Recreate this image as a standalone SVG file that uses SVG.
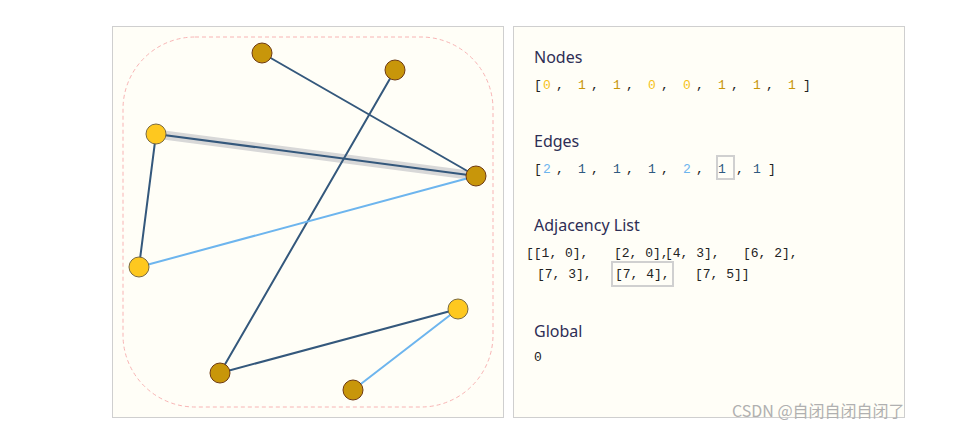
<svg xmlns="http://www.w3.org/2000/svg" width="956" height="430" viewBox="0 0 956 430">
<style>
.panel{fill:#fffef7;stroke:#cfcfcf;stroke-width:1}
.dk{stroke:#34587c;stroke-width:2}
.lt{stroke:#6db5ee;stroke-width:2}
.n1{fill:#c8960a;stroke:#6e3a12;stroke-width:1}
.n0{fill:#fec81f;stroke:#7a6a40;stroke-width:1}
.h{font-family:"Noto Sans","Liberation Sans",sans-serif;font-size:16px;fill:#2e2e55}
.m{font-family:"Liberation Mono","DejaVu Sans Mono",monospace;font-size:13px;fill:#222}
.y0{fill:#f5c21a}.y1{fill:#c8960a}.b2{fill:#6db5ee}.b1{fill:#2f5a80}
.box{fill:none;stroke:#d0d0d0;stroke-width:2}
</style>
<rect class="panel" x="112.5" y="26.5" width="391" height="391"/>
<rect class="panel" x="513.5" y="26.5" width="391" height="391"/>
<rect x="123" y="37" width="370" height="370" rx="72" fill="none" stroke="#f8b4b4" stroke-width="1" stroke-dasharray="4,3"/>
<g id="connectors" stroke-linecap="round">
<line x1="156" y1="134" x2="476" y2="176" stroke="#d8d8d8" stroke-width="9"/>
<line class="dk" x1="156" y1="134" x2="476" y2="176" stroke-width="2.5"/>
<line class="dk" x1="262" y1="53" x2="476" y2="176"/>
<line class="dk" x1="395" y1="70" x2="220" y2="373"/>
<line class="dk" x1="156" y1="134" x2="139" y2="267"/>
<line class="lt" x1="139" y1="267" x2="476" y2="176"/>
<line class="dk" x1="220" y1="373" x2="458" y2="309"/>
<line class="lt" x1="458" y1="309" x2="353" y2="390"/>
</g>
<g id="node0"><circle class="n1" cx="262" cy="53" r="10"/></g>
<g id="node1"><circle class="n1" cx="395" cy="70" r="10"/></g>
<g id="node2"><circle class="n0" cx="156" cy="134" r="10"/></g>
<g id="node3"><circle class="n1" cx="476" cy="176" r="10"/></g>
<g id="node4"><circle class="n0" cx="139" cy="267" r="10"/></g>
<g id="node5"><circle class="n0" cx="458" cy="309" r="10"/></g>
<g id="node6"><circle class="n1" cx="220" cy="373" r="10"/></g>
<g id="node7"><circle class="n1" cx="353" cy="390" r="10"/></g>
<g id="info">
<text class="h" x="534" y="63">Nodes</text>
<text class="m" y="89"><tspan x="534">[</tspan><tspan x="543" class="y0">0</tspan><tspan x="556">,</tspan><tspan x="578" class="y1">1</tspan><tspan x="591">,</tspan><tspan x="613" class="y1">1</tspan><tspan x="626">,</tspan><tspan x="648" class="y0">0</tspan><tspan x="661">,</tspan><tspan x="683" class="y0">0</tspan><tspan x="696">,</tspan><tspan x="718" class="y1">1</tspan><tspan x="731">,</tspan><tspan x="753" class="y1">1</tspan><tspan x="766">,</tspan><tspan x="788" class="y1">1</tspan><tspan x="803">]</tspan></text>
<text class="h" x="534" y="147">Edges</text>
<text class="m" y="173"><tspan x="534">[</tspan><tspan x="543" class="b2">2</tspan><tspan x="556">,</tspan><tspan x="578" class="b1">1</tspan><tspan x="591">,</tspan><tspan x="613" class="b1">1</tspan><tspan x="626">,</tspan><tspan x="648" class="b1">1</tspan><tspan x="661">,</tspan><tspan x="683" class="b2">2</tspan><tspan x="696">,</tspan><tspan x="718" class="b1">1</tspan><tspan x="736">,</tspan><tspan x="753" class="b1">1</tspan><tspan x="768">]</tspan></text>
<rect class="box" x="717" y="156" width="17" height="23"/>
<text class="h" x="534" y="231">Adjacency List</text>
<text class="m" y="257"><tspan x="526">[[1, 0],</tspan><tspan x="614">[2, 0],</tspan><tspan x="665">[4, 3],</tspan><tspan x="743">[6, 2],</tspan></text>
<text class="m" y="278"><tspan x="537">[7, 3],</tspan><tspan x="615">[7, 4],</tspan><tspan x="695">[7, 5]]</tspan></text>
<rect class="box" x="612" y="262" width="61" height="24"/>
<text class="h" x="534" y="337">Global</text>
<text class="m" x="534" y="361" fill="#f08080">0</text>
</g>
<text x="732" y="417" font-family="'Noto Sans CJK SC','Noto Sans',sans-serif" font-size="16" fill="#b0b0b0">CSDN @自闭自闭自闭了</text>
</svg>
